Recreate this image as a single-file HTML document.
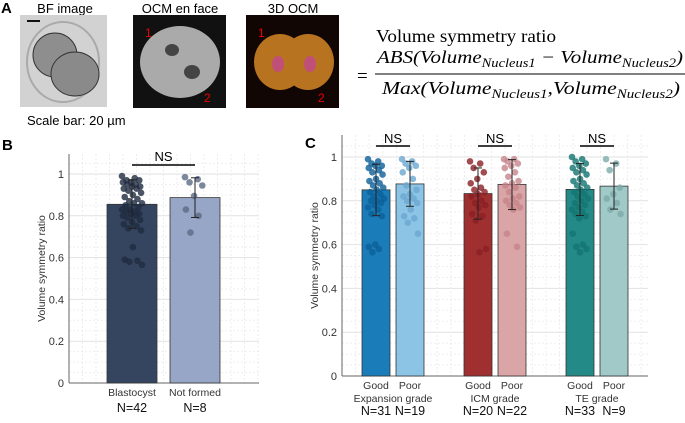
<!DOCTYPE html>
<html><head><meta charset="utf-8">
<style>
body{margin:0;background:#fff;width:685px;height:418px;overflow:hidden;font-family:"Liberation Sans",sans-serif;}
svg text{font-family:"Liberation Sans",sans-serif;}
</style></head><body>
<svg id="fig" width="685" height="418" viewBox="0 0 685 418" xmlns="http://www.w3.org/2000/svg">
<!-- Panel A -->
<g>
<text x="1" y="13" font-size="15" font-weight="bold">A</text>
<text x="65" y="13" font-size="13" text-anchor="middle">BF image</text>
<text x="180" y="13" font-size="13" text-anchor="middle">OCM en face</text>
<text x="293" y="13" font-size="13" text-anchor="middle">3D OCM</text>
<g>
<rect x="20" y="15" width="87" height="92" fill="#d2d2d2"/>
<ellipse cx="63" cy="62" rx="36" ry="40" fill="none" stroke="#aaa" stroke-width="2"/>
<ellipse cx="55" cy="55" rx="22" ry="22" fill="#8e8e8e" stroke="#333" stroke-width="1"/>
<ellipse cx="75" cy="74" rx="24" ry="22" fill="#8a8a8a" stroke="#333" stroke-width="1"/>
<rect x="27" y="20" width="13" height="2" fill="#111"/>
</g>
<g>
<rect x="133" y="15" width="93" height="93" fill="#111"/>
<ellipse cx="180" cy="62" rx="40" ry="36" fill="#aaa"/>
<ellipse cx="172" cy="50" rx="7" ry="6" fill="#444"/>
<ellipse cx="192" cy="72" rx="8" ry="7" fill="#444"/>
<text x="145" y="37" font-size="12" fill="#e00">1</text>
<text x="204" y="102" font-size="12" fill="#e00">2</text>
</g>
<g>
<rect x="246" y="15" width="93" height="93" fill="#120604"/>
<ellipse cx="280" cy="62" rx="26" ry="28" fill="#b7731f"/>
<ellipse cx="308" cy="62" rx="26" ry="28" fill="#b7731f"/>
<ellipse cx="278" cy="64" rx="6" ry="8" fill="#c0507a"/>
<ellipse cx="310" cy="64" rx="6" ry="8" fill="#c0507a"/>
<text x="258" y="37" font-size="12" fill="#e00">1</text>
<text x="318" y="102" font-size="12" fill="#e00">2</text>
</g>
<text x="27" y="125" font-size="13">Scale bar: 20 µm</text>
<g>
<text x="376" y="42" font-size="17.5" style="font-family:'Liberation Serif',serif" textLength="180" lengthAdjust="spacingAndGlyphs">Volume symmetry ratio</text>
<text x="357" y="82" font-size="19" style="font-family:'Liberation Serif',serif">=</text>
<text x="377" y="63" font-size="18" font-style="italic" style="font-family:'Liberation Serif',serif" textLength="306" lengthAdjust="spacingAndGlyphs">ABS(Volume<tspan font-size="12.5" dy="4">Nucleus1</tspan><tspan dy="-4"> − Volume</tspan><tspan font-size="12.5" dy="4">Nucleus2</tspan><tspan dy="-4">)</tspan></text>
<line x1="375" y1="74" x2="685" y2="74" stroke="#000" stroke-width="1"/>
<text x="382" y="94" font-size="18" font-style="italic" style="font-family:'Liberation Serif',serif" textLength="298" lengthAdjust="spacingAndGlyphs">Max(Volume<tspan font-size="12.5" dy="4">Nucleus1</tspan><tspan dy="-4">,Volume</tspan><tspan font-size="12.5" dy="4">Nucleus2</tspan><tspan dy="-4">)</tspan></text>
</g>
</g>
<g id="pb"></g>
<g id="pc"></g>
</svg>
<script>
// ---- Panel B data ----
const bCategories = ["Blastocyst", "Not formed"];
const bCounts = ["N=42", "N=8"];
const bMeans = [0.855, 0.887];
const bErrLow = [0.740, 0.792];
const bErrHigh = [0.972, 0.982];
const bPoints0 = [0.99,0.98,0.97,0.97,0.96,0.96,0.95,0.95,0.94,0.94,0.93,0.93,0.92,0.91,0.90,0.89,0.88,0.87,0.86,0.86,0.85,0.84,0.83,0.83,0.82,0.82,0.81,0.81,0.80,0.80,0.79,0.78,0.77,0.76,0.75,0.74,0.73,0.65,0.59,0.585,0.58,0.565];
const bPoints1 = [0.985,0.975,0.96,0.945,0.895,0.83,0.80,0.72];
// ---- Panel C data ----
const cCategories = ["Good","Poor","Good","Poor","Good","Poor"];
const cGroups = ["Expansion grade","ICM grade","TE grade"];
const cCounts = ["N=31","N=19","N=20","N=22","N=33","N=9"];
const cMeans = [0.850, 0.877, 0.833, 0.875, 0.852, 0.867];
const cErrLow = [0.732, 0.775, 0.716, 0.760, 0.733, 0.762];
const cErrHigh = [0.967, 0.980, 0.950, 0.988, 0.970, 0.972];
const cPts0 = [0.99,0.98,0.97,0.96,0.96,0.95,0.94,0.93,0.92,0.90,0.89,0.88,0.87,0.86,0.85,0.84,0.83,0.82,0.81,0.80,0.80,0.79,0.78,0.77,0.76,0.74,0.73,0.60,0.59,0.58,0.565];
const cPts1 = [0.99,0.98,0.97,0.96,0.95,0.93,0.90,0.87,0.85,0.83,0.82,0.81,0.80,0.79,0.76,0.73,0.72,0.70,0.65];
const cPts2 = [0.98,0.97,0.95,0.93,0.90,0.88,0.86,0.85,0.84,0.83,0.82,0.80,0.79,0.78,0.77,0.74,0.73,0.71,0.58,0.565];
const cPts3 = [0.99,0.99,0.98,0.97,0.96,0.95,0.93,0.91,0.89,0.88,0.87,0.86,0.84,0.82,0.81,0.80,0.79,0.78,0.77,0.76,0.65,0.59];
const cPts4 = [1.0,0.99,0.98,0.97,0.96,0.95,0.94,0.93,0.92,0.90,0.89,0.88,0.87,0.86,0.85,0.84,0.83,0.82,0.81,0.80,0.79,0.78,0.77,0.76,0.75,0.74,0.73,0.72,0.65,0.60,0.59,0.58,0.565];
const cPts5 = [0.99,0.97,0.94,0.86,0.83,0.81,0.79,0.76,0.74];
const yTicks = [0, 0.2, 0.4, 0.6, 0.8, 1];
const yTickLabels = ["0","0.2","0.4","0.6","0.8","1"];

const NS = "http://www.w3.org/2000/svg";
function mk(parent, tag, attrs, txt){const e=document.createElementNS(NS,tag);for(const k in attrs)e.setAttribute(k,attrs[k]);if(txt!==undefined)e.textContent=txt;parent.appendChild(e);return e;}

function drawPanel(g, cfg){
  const y = v => cfg.y0 - v*(cfg.y0-cfg.y1);
  const grid = mk(g,'g',{});
  
  
  for(let v=0; v<=1.1; v+=0.05){
    const yy=y(v); if(yy<cfg.top) break;
    const major = Math.abs(Math.round(v*10)/10 - v)<1e-6 && Math.round(v*10)%2===0;
    mk(grid,'line',{x1:cfg.left,x2:cfg.right,y1:yy,y2:yy,stroke:major?'#e2e2e2':'#efefef','stroke-dasharray':major?'':'2,2','stroke-width':1});
  }
  for(let x=cfg.left+cfg.vstep; x<cfg.right; x+=cfg.vstep){
    mk(grid,'line',{x1:x,x2:x,y1:cfg.top,y2:cfg.y0,stroke:'#ececec','stroke-dasharray':'2,2'});
  }
  const ax = mk(g,'line',{x1:cfg.left,x2:cfg.left,y1:cfg.top,y2:cfg.y0,stroke:'#666'});
  
  
  const bx = mk(g,'line',{x1:cfg.left,x2:cfg.right,y1:cfg.y0,y2:cfg.y0,stroke:'#666'});
  
  
  yTicks.forEach((v,i)=>{
    const t = mk(g,'text',{x:cfg.left-5,y:y(v)+4,'font-size':11,'text-anchor':'end',fill:'#333'},yTickLabels[i]);
    
    
  });
  const yl = mk(g,'text',{x:0,y:0,'font-size':10.5,'text-anchor':'middle',fill:'#333',transform:`translate(${cfg.ylx},${(cfg.top+cfg.y0)/2}) rotate(-90)`},'Volume symmetry ratio');
  
  
  cfg.means.forEach((m,i)=>{
    const x0=cfg.barX[i], w=cfg.barW;
    const b = mk(g,'rect',{x:x0,y:y(m),width:w,height:y(0)-y(m),fill:cfg.fills[i],stroke:'#333','stroke-width':0.8});
    
    
    const cx=x0+w/2;
    const pts=cfg.points[i];
    pts.forEach((p,j)=>{
      const off=((j*37)%23-11)/11*(cfg.jit);
      const d = mk(g,'circle',{cx:cx+off,cy:y(p),r:3.3,fill:cfg.dots[i],'fill-opacity':0.8});
      
      
    });
    const eb = mk(g,'g',{stroke:'#222','stroke-width':1});
    
    
    mk(eb,'line',{x1:cx,x2:cx,y1:y(cfg.lo[i]),y2:y(cfg.hi[i])});
    mk(eb,'line',{x1:cx-4,x2:cx+4,y1:y(cfg.lo[i]),y2:y(cfg.lo[i])});
    mk(eb,'line',{x1:cx-4,x2:cx+4,y1:y(cfg.hi[i]),y2:y(cfg.hi[i])});
    const c = mk(g,'text',{x:cx,y:cfg.catY,'font-size':10.5,'text-anchor':'middle',fill:'#333'},cfg.cats[i]);
    
    
    const n = mk(g,'text',{x:cx,y:cfg.nY,'font-size':12.5,'text-anchor':'middle',fill:'#111'},cfg.counts[i]);
    
    
  });
}

const pb=document.getElementById('pb');
const lb = mk(pb,'text',{x:2,y:150,'font-size':15,'font-weight':'bold'},'B');


drawPanel(pb,{left:69,right:259,top:154,y0:383,y1:174,vstep:13.5,ylx:45,barX:[107,170],barW:50,jit:10,
  means:bMeans,lo:bErrLow,hi:bErrHigh,points:[bPoints0,bPoints1],fills:['#36455f','#97a6c6'],dots:['#1f2b40','#5d6a85'],
  cats:bCategories,counts:bCounts,catY:396,nY:412});
const nsb=mk(pb,'g',{});


mk(nsb,'line',{x1:132,x2:195,y1:165,y2:165,stroke:'#000','stroke-width':1.5});
mk(nsb,'text',{x:163.5,y:161,'font-size':13,'text-anchor':'middle'},'NS');

const pc=document.getElementById('pc');
const lc = mk(pc,'text',{x:305,y:148,'font-size':15,'font-weight':'bold'},'C');


drawPanel(pc,{left:342,right:648,top:135,y0:376,y1:157,vstep:13.6,ylx:318,barX:[362,396,464,498,566,600],barW:28,jit:8,
  means:cMeans,lo:cErrLow,hi:cErrHigh,points:[cPts0,cPts1,cPts2,cPts3,cPts4,cPts5],
  fills:['#1a7dba','#8cc4e6','#a03030','#d9a5a7','#248a87','#a0c9c7'],dots:['#0c5f97','#6aa8cf','#8a1f24','#c6858b','#137470','#7cabab'],
  cats:cCategories,counts:cCounts,catY:389,nY:415});
cGroups.forEach((gname,i)=>{
  const cx=(376+410)/2+i*102;
  const t = mk(pc,'text',{x:cx,y:402,'font-size':10.5,'text-anchor':'middle',fill:'#333'},gname);
  
  
  const s=mk(pc,'g',{});
  
  
  mk(s,'line',{x1:cx-17,x2:cx+17,y1:146,y2:146,stroke:'#000','stroke-width':1.5});
  mk(s,'text',{x:cx,y:143,'font-size':13,'text-anchor':'middle'},'NS');
});
</script>
</body></html>
